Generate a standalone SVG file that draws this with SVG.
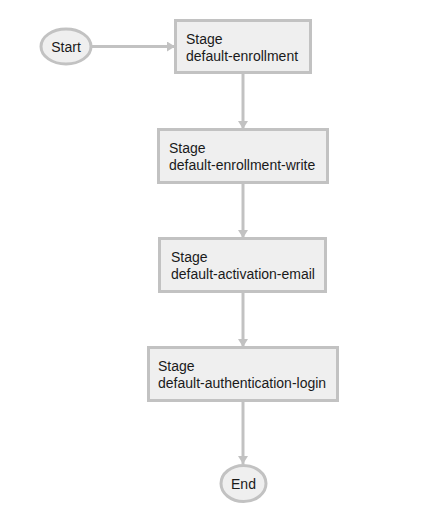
<svg xmlns="http://www.w3.org/2000/svg" width="439" height="517" viewBox="0 0 439 517">
<style>
.node{fill:#efefef;stroke:#c2c2c2;stroke-width:3}
.lbl{font-family:"Liberation Sans",Arial,sans-serif;font-size:14px;fill:#1a1a1a}
.edge{stroke:#c2c2c2;stroke-width:3;fill:none}
</style>
<defs>
<marker id="arr" markerWidth="8" markerHeight="10" refX="8" refY="5" orient="auto" markerUnits="userSpaceOnUse">
<path d="M0,0 L8,5 L0,10 z" fill="#c2c2c2"/>
</marker>
</defs>
<rect width="439" height="517" fill="#ffffff"/>
<g id="connectors">
<line class="edge" x1="92" y1="46.5" x2="175" y2="46.5" marker-end="url(#arr)"/>
<line class="edge" x1="243" y1="73" x2="243" y2="129" marker-end="url(#arr)"/>
<line class="edge" x1="243" y1="183" x2="243" y2="238" marker-end="url(#arr)"/>
<line class="edge" x1="243" y1="292" x2="243" y2="347" marker-end="url(#arr)"/>
<line class="edge" x1="243" y1="402" x2="243" y2="464" marker-end="url(#arr)"/>
</g>
<g id="start">
<ellipse class="node" cx="66" cy="46.5" rx="25" ry="17.5"/>
<text class="lbl" x="66" y="51.5" text-anchor="middle">Start</text>
</g>
<g id="stage1">
<rect class="node" x="175.5" y="20.5" width="135" height="52"/>
<text class="lbl" x="186" y="44">Stage</text>
<text class="lbl" x="186" y="61">default-enrollment</text>
</g>
<g id="stage2">
<rect class="node" x="158.5" y="129.5" width="169" height="53"/>
<text class="lbl" x="169" y="153">Stage</text>
<text class="lbl" x="169" y="170">default-enrollment-write</text>
</g>
<g id="stage3">
<rect class="node" x="159.5" y="238.5" width="166" height="53"/>
<text class="lbl" x="171" y="262">Stage</text>
<text class="lbl" x="171" y="279">default-activation-email</text>
</g>
<g id="stage4">
<rect class="node" x="148.5" y="347.5" width="189" height="53"/>
<text class="lbl" x="158" y="371">Stage</text>
<text class="lbl" x="158" y="388">default-authentication-login</text>
</g>
<g id="end">
<ellipse class="node" cx="243.5" cy="483.5" rx="22.5" ry="18"/>
<text class="lbl" x="243.5" y="488.5" text-anchor="middle">End</text>
</g>
</svg>
